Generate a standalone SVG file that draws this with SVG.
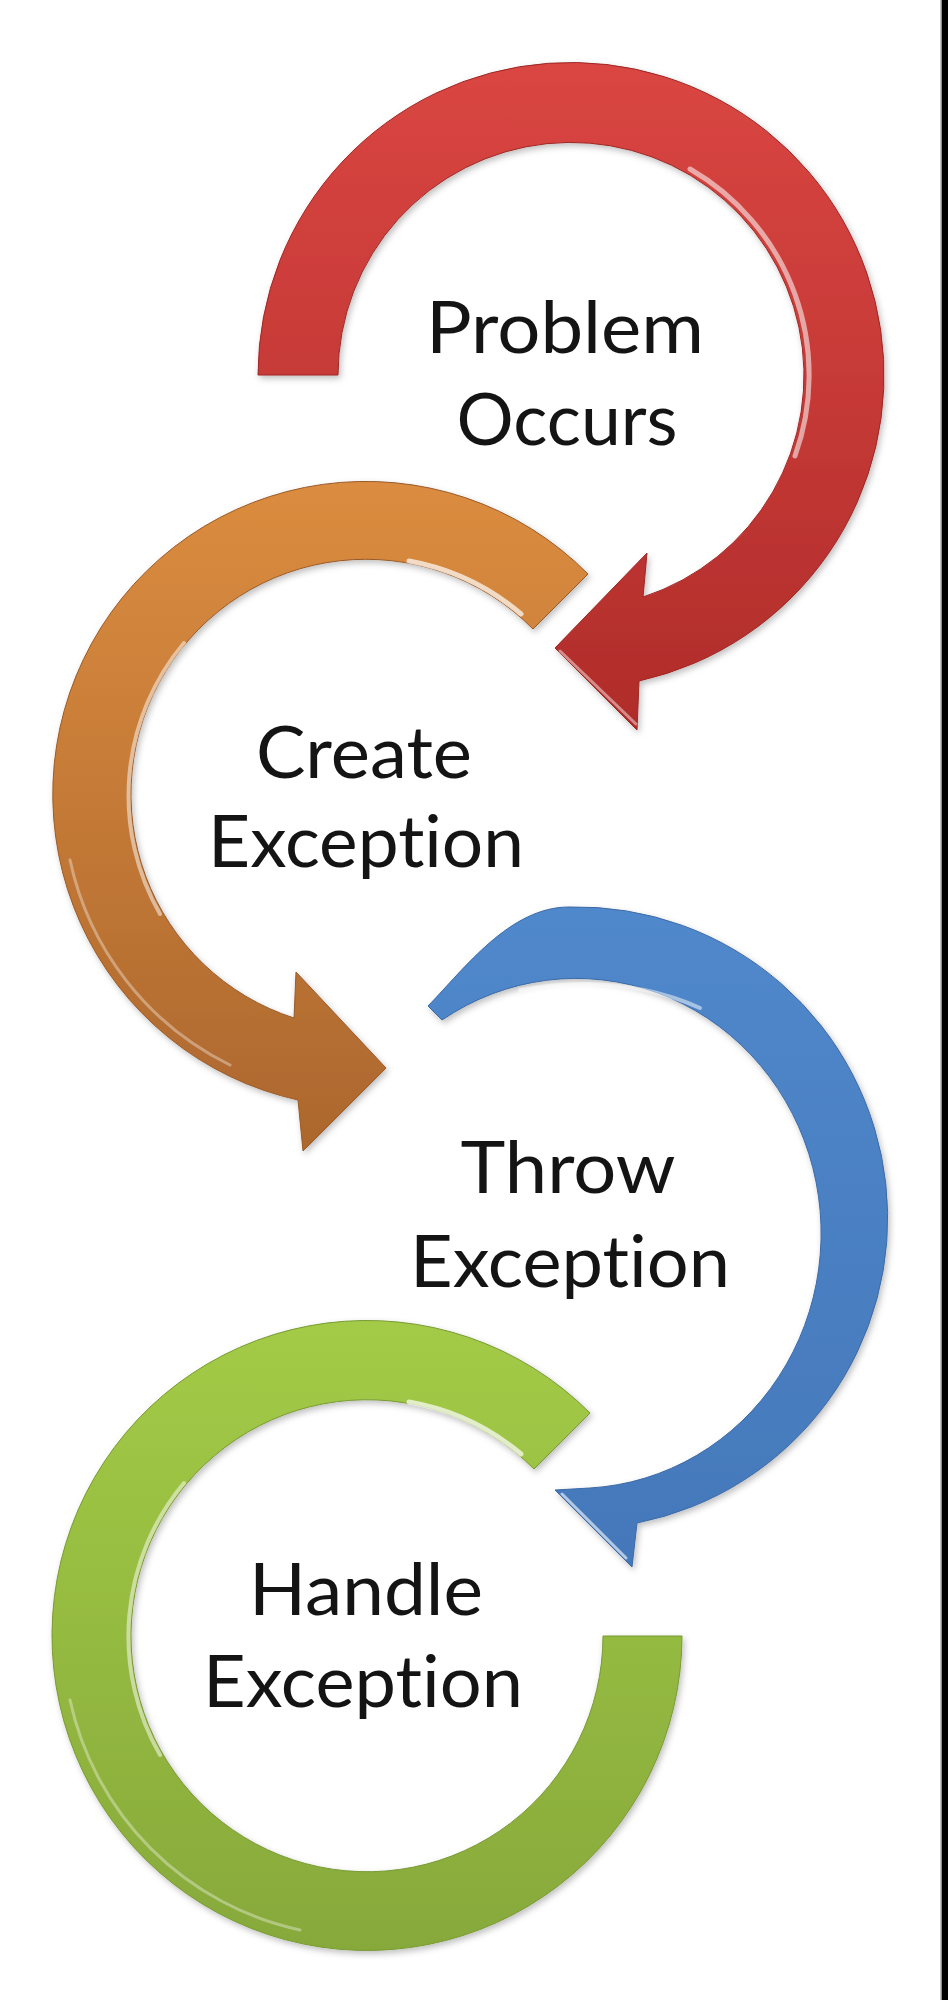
<svg xmlns="http://www.w3.org/2000/svg" width="948" height="2000" viewBox="0 0 948 2000">
  <style>
    .lbl { font-family: Lato, "Open Sans", "Liberation Sans", sans-serif; font-size: 72px; fill: #141414; text-anchor: middle; font-variant-ligatures: none; font-feature-settings: "liga" 0, "clig" 0; }
    .hl { fill: none; stroke: #ffffff; stroke-linecap: round; }
  </style>
  <defs>
    <linearGradient id="gRed" x1="0" y1="0" x2="0" y2="1">
      <stop offset="0" stop-color="#DA4642"/>
      <stop offset="1" stop-color="#B02C2A"/>
    </linearGradient>
    <linearGradient id="gOrange" x1="0" y1="0" x2="0" y2="1">
      <stop offset="0" stop-color="#DB8C3F"/>
      <stop offset="1" stop-color="#AC672E"/>
    </linearGradient>
    <linearGradient id="gBlue" x1="0" y1="0" x2="0" y2="1">
      <stop offset="0" stop-color="#5088CB"/>
      <stop offset="1" stop-color="#4478BA"/>
    </linearGradient>
    <linearGradient id="gGreen" x1="0" y1="0" x2="0" y2="1">
      <stop offset="0" stop-color="#A3CB46"/>
      <stop offset="1" stop-color="#87A93B"/>
    </linearGradient>
    <filter id="shadow" x="-10%" y="-10%" width="120%" height="120%">
      <feDropShadow dx="2" dy="3" stdDeviation="3" flood-color="#000000" flood-opacity="0.25"/>
    </filter>
  </defs>

  <rect x="0" y="0" width="948" height="2000" fill="#ffffff"/>
  <rect x="940.5" y="0" width="2" height="2000" fill="#8a8a8a"/>
  <rect x="942" y="0" width="6" height="2000" fill="#000000"/>

  <g id="connectors"></g>

  <g id="node-problem-occurs">
    <path filter="url(#shadow)" fill="url(#gRed)" stroke="#9e2624" stroke-width="1"
          d="M 258,375 A 313 313 0 1 1 639,681 L 637,730 L 555,648 L 647,553 L 643,597 A 233 233 0 1 0 338,375 Z"/>
    <path class="hl" stroke-opacity="0.55" stroke-width="5" d="M 690,169 A 238 238 0 0 1 795,456"/>
    <path class="hl" stroke-opacity="0.45" stroke-width="3" d="M 560,651 L 636,724"/>
    <text class="lbl" x="565" y="353" textLength="278" lengthAdjust="spacingAndGlyphs">Problem</text>
    <text class="lbl" x="567" y="445" textLength="221" lengthAdjust="spacingAndGlyphs">Occurs</text>
  </g>

  <g id="node-create-exception">
    <path filter="url(#shadow)" fill="url(#gOrange)" stroke="#9a5a28" stroke-width="1"
          d="M 588,574 A 313 313 0 1 0 298,1100 L 303,1151 L 386,1068 L 296,972 L 294,1018 A 235 235 0 1 1 533,629 Z"/>
    <path class="hl" stroke-opacity="0.7" stroke-width="5" d="M 409,561 A 238 238 0 0 1 521,614"/>
    <path class="hl" stroke-opacity="0.5" stroke-width="4" d="M 184,643 A 238 238 0 0 0 160,914"/>
    <path class="hl" stroke-opacity="0.35" stroke-width="3" d="M 70,860 A 298 298 0 0 0 230,1065"/>
    <text class="lbl" x="364" y="778" textLength="216" lengthAdjust="spacingAndGlyphs">Create</text>
    <text class="lbl" x="366" y="867" textLength="316" lengthAdjust="spacingAndGlyphs">Exception</text>
  </g>

  <g id="node-throw-exception">
    <path filter="url(#shadow)" fill="url(#gBlue)" stroke="#3c6aa6" stroke-width="1"
          d="M 442,1020 L 428,1006 C 465,968 510,907 569,907 A 311 311 0 0 1 637,1523 L 632,1567 L 555,1490 L 590,1488 A 245 255 0 1 0 442,1020 Z"/>
    <path class="hl" stroke-opacity="0.5" stroke-width="4" d="M 520,990 Q 620,972 700,1008"/>
    <path class="hl" stroke-opacity="0.6" stroke-width="3" d="M 562,1494 L 626,1558"/>
    <text class="lbl" x="568" y="1193" textLength="215" lengthAdjust="spacingAndGlyphs">Throw</text>
    <text class="lbl" x="570" y="1287" textLength="320" lengthAdjust="spacingAndGlyphs">Exception</text>
  </g>

  <g id="node-handle-exception">
    <path filter="url(#shadow)" fill="url(#gGreen)" stroke="#789a32" stroke-width="1"
          d="M 590,1413 A 315 315 0 1 0 682,1636 L 603,1636 A 236 236 0 1 1 534,1469 Z"/>
    <path class="hl" stroke-opacity="0.7" stroke-width="5" d="M 409,1402 A 239 239 0 0 1 521,1454"/>
    <path class="hl" stroke-opacity="0.5" stroke-width="4" d="M 184,1483 A 239 239 0 0 0 160,1755"/>
    <path class="hl" stroke-opacity="0.35" stroke-width="3" d="M 70,1700 A 300 300 0 0 0 300,1930"/>
    <text class="lbl" x="366" y="1615" textLength="234" lengthAdjust="spacingAndGlyphs">Handle</text>
    <text class="lbl" x="363" y="1707" textLength="320" lengthAdjust="spacingAndGlyphs">Exception</text>
  </g>
</svg>
